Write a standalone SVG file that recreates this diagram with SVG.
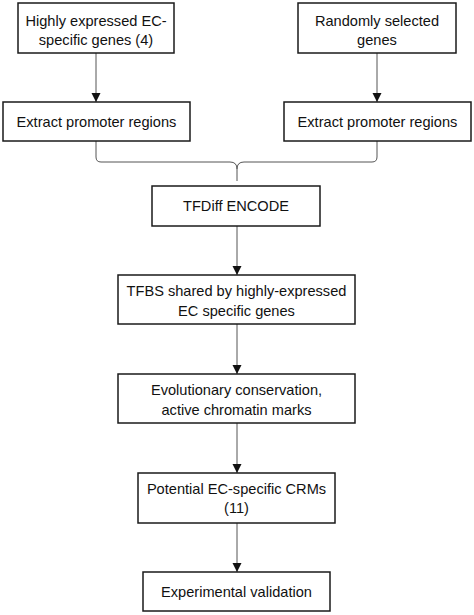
<svg xmlns="http://www.w3.org/2000/svg" width="474" height="615" viewBox="0 0 474 615">
<style>
.box{fill:#fff;stroke:#1a1a1a;stroke-width:1.5}
.t{font-family:"Liberation Sans",Arial,sans-serif;font-size:14.6px;fill:#111;text-anchor:middle}
.c{fill:none;stroke:#555;stroke-width:1}
</style>
<defs>
<marker id="ah" markerWidth="10" markerHeight="10" refX="9" refY="5" orient="auto" markerUnits="userSpaceOnUse">
<path d="M0,0.5 L9,5 L0,9.5 Z" fill="#111"/>
</marker>
</defs>
<rect width="474" height="615" fill="#fff"/>
<g id="connectors">
<line class="c" x1="96" y1="53" x2="96" y2="102" marker-end="url(#ah)"/>
<line class="c" x1="377" y1="53" x2="377" y2="102" marker-end="url(#ah)"/>
<path class="c" d="M96,141 V157 Q96,162 101,162 H230 Q237,162 237,169 V181"/>
<path class="c" d="M377,141 V157 Q377,162 372,162 H244 Q237,162 237,169"/>
<line class="c" x1="237" y1="226" x2="237" y2="275" marker-end="url(#ah)"/>
<line class="c" x1="237" y1="324" x2="237" y2="374" marker-end="url(#ah)"/>
<line class="c" x1="237" y1="423" x2="237" y2="473" marker-end="url(#ah)"/>
<line class="c" x1="237" y1="523" x2="237" y2="572" marker-end="url(#ah)"/>
</g>
<g id="n1"><rect class="box" x="18" y="3" width="156" height="50"/><text class="t" x="96" y="25.5">Highly expressed EC-</text><text class="t" x="96" y="45">specific genes (4)</text></g>
<g id="n2"><rect class="box" x="298" y="3" width="158" height="50"/><text class="t" x="377" y="25.5">Randomly selected</text><text class="t" x="377" y="45">genes</text></g>
<g id="n3"><rect class="box" x="3" y="102" width="187" height="39"/><text class="t" x="96.5" y="126.5">Extract promoter regions</text></g>
<g id="n4"><rect class="box" x="284" y="102" width="187" height="39"/><text class="t" x="377.5" y="126.5">Extract promoter regions</text></g>
<g id="n5"><rect class="box" x="152" y="186" width="168" height="40"/><text class="t" x="236" y="211">TFDiff ENCODE</text></g>
<g id="n6"><rect class="box" x="118" y="275" width="237" height="49"/><text class="t" x="236.5" y="296">TFBS shared by highly-expressed</text><text class="t" x="236.5" y="315.5">EC specific genes</text></g>
<g id="n7"><rect class="box" x="118" y="374" width="237" height="49"/><text class="t" x="236.5" y="395">Evolutionary conservation,</text><text class="t" x="236.5" y="414.5">active chromatin marks</text></g>
<g id="n8"><rect class="box" x="138" y="473" width="197" height="50"/><text class="t" x="236.5" y="493.5">Potential EC-specific CRMs</text><text class="t" x="236.5" y="513">(11)</text></g>
<g id="n9"><rect class="box" x="143" y="572" width="187" height="39"/><text class="t" x="236.5" y="596.5">Experimental validation</text></g>
</svg>
